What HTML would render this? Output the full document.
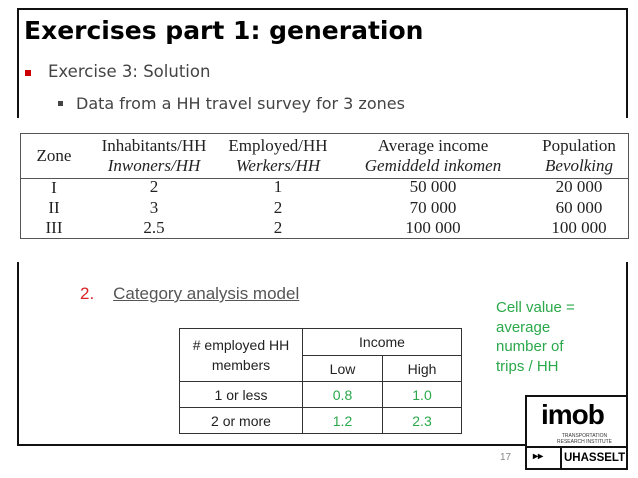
<!DOCTYPE html>
<html><head><meta charset="utf-8"><style>
body{margin:0;width:638px;height:478px;background:#fff;position:relative;overflow:hidden;font-family:"Liberation Sans",sans-serif}
.a{position:absolute}
.ln{position:absolute;background:#111}
.tt td{font-family:"Liberation Serif",serif;font-size:17px;color:#222;text-align:center;padding:0;line-height:20px;white-space:nowrap}
.st{border-collapse:collapse;position:absolute;left:179px;top:328px;font-family:"Liberation Sans",sans-serif;font-size:14px;color:#222}
.st td{border:1.5px solid #333;text-align:center;padding:0}
.g{color:#2aa84a}
</style></head><body>
<div class="ln" style="left:17px;top:8px;width:611px;height:2px"></div>
<div class="ln" style="left:17px;top:8px;width:2px;height:110px"></div>
<div class="ln" style="left:626px;top:8px;width:2px;height:110px"></div>
<div class="ln" style="left:17px;top:262px;width:2px;height:184px"></div>
<div class="ln" style="left:626px;top:262px;width:2px;height:134px"></div>
<div class="ln" style="left:17px;top:444px;width:510px;height:2px"></div>

<div class="a" style="left:24px;top:16px;font-family:'DejaVu Sans',sans-serif;font-size:25px;font-weight:bold;color:#000;white-space:nowrap">Exercises part 1: generation</div>
<div class="a" style="left:25px;top:70px;width:6px;height:6px;background:#c00"></div>
<div class="a" style="left:48px;top:62px;font-family:'DejaVu Sans',sans-serif;font-size:16.5px;color:#444;white-space:nowrap">Exercise 3: Solution</div>
<div class="a" style="left:58px;top:101px;width:5px;height:5px;background:#444"></div>
<div class="a" style="left:76px;top:94px;font-family:'DejaVu Sans',sans-serif;font-size:16px;color:#444;white-space:nowrap">Data from a HH travel survey for 3 zones</div>

<div class="a" style="left:20px;top:133px;width:609px;height:106px;border:1.5px solid #555;box-sizing:border-box">
<div class="a" style="left:0;top:44px;width:100%;height:1px;background:#555"></div>
<table class="tt" style="position:absolute;left:0;top:2px;width:606px;border-collapse:collapse">
<colgroup><col style="width:66px"><col style="width:134px"><col style="width:114px"><col style="width:196px"><col></colgroup>
<tr><td rowspan="2" style="height:40px">Zone</td><td>Inhabitants/HH</td><td>Employed/HH</td><td>Average income</td><td>Population</td></tr>
<tr><td><i>Inwoners/HH</i></td><td><i>Werkers/HH</i></td><td><i>Gemiddeld inkomen</i></td><td><i>Bevolking</i></td></tr>
<tr><td style="padding-top:2px">I</td><td>2</td><td>1</td><td>50 000</td><td>20 000</td></tr>
<tr><td>II</td><td>3</td><td>2</td><td>70 000</td><td>60 000</td></tr>
<tr><td>III</td><td>2.5</td><td>2</td><td>100 000</td><td>100 000</td></tr>
</table></div>

<div class="a" style="left:80px;top:284px;font-size:17px;color:#555"><span style="color:#d22">2.</span>&nbsp;&nbsp;&nbsp;&nbsp;<span style="text-decoration:underline">Category analysis model</span></div>

<table class="st">
<tr><td rowspan="2" style="width:122px;height:52px;line-height:20px"># employed HH<br>members</td><td colspan="2" style="height:26px">Income</td></tr>
<tr><td style="width:79px;height:25px">Low</td><td style="width:78px">High</td></tr>
<tr><td style="height:25px">1 or less</td><td class="g">0.8</td><td class="g">1.0</td></tr>
<tr><td style="height:25px">2 or more</td><td class="g">1.2</td><td class="g">2.3</td></tr>
</table>

<div class="a" style="left:496px;top:298px;font-size:15px;line-height:19.5px;color:#2aa84a">Cell value =<br>average<br>number of<br>trips / HH</div>

<div class="a" style="left:500px;top:452px;font-size:10px;color:#888">17</div>
<div class="a" style="left:525px;top:395px;width:103px;height:75px;border:2px solid #111;box-sizing:border-box;background:#fff;overflow:hidden">
<div class="a" style="left:0;top:49px;width:100%;height:2px;background:#111"></div>
<div class="a" style="left:33px;top:51px;width:2px;height:24px;background:#111"></div>
<div class="a" style="left:14px;top:2px;font-size:28px;font-weight:bold;letter-spacing:-1px;color:#000">imob</div>
<div class="a" style="left:30px;top:36px;font-size:5px;line-height:6px;color:#333;text-align:center">TRANSPORTATION<br>RESEARCH INSTITUTE</div>
<div class="a" style="left:6px;top:54px;font-size:10px;font-weight:bold">▸▸</div>
<div class="a" style="left:37px;top:55px;font-size:11.5px;font-weight:bold;color:#000">UHASSELT</div>
</div>
</body></html>
